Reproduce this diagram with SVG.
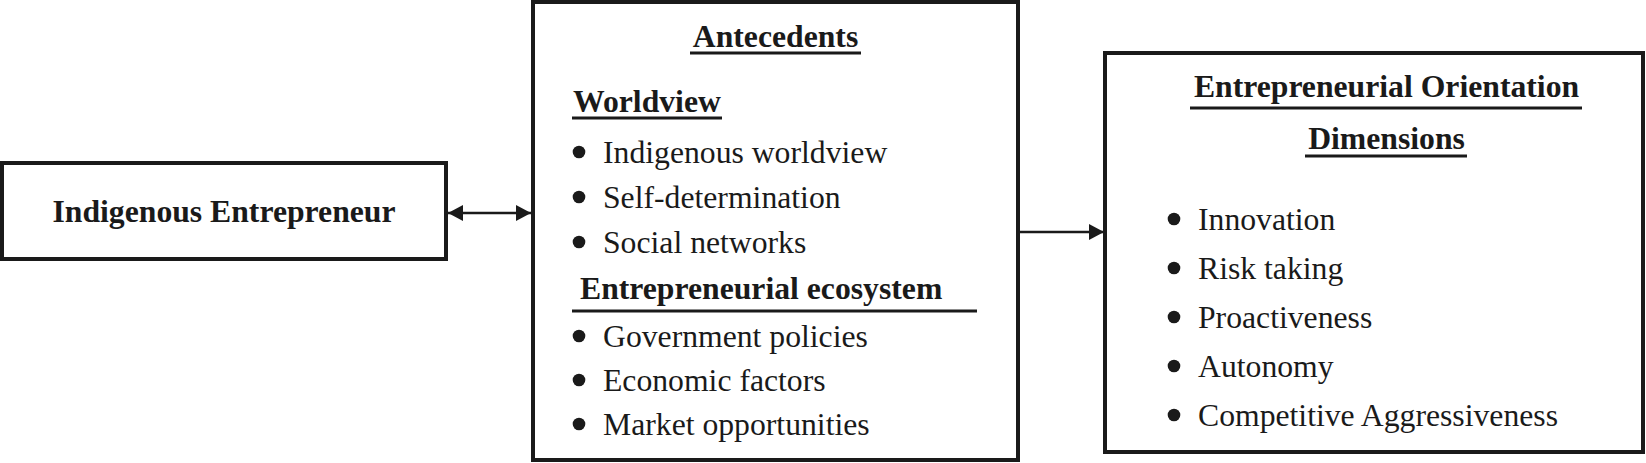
<svg xmlns="http://www.w3.org/2000/svg" width="1646" height="463" viewBox="0 0 1646 463">
  <style>
    .box { fill: #ffffff; stroke: #1a1a1a; stroke-width: 4; }
    .t { font-family: "Liberation Serif", "Times New Roman", serif; font-size: 31.7px; fill: #1a1a1a; }
    .b { font-weight: bold; }
    .ul { stroke: #1a1a1a; stroke-width: 3; }
    .dot { fill: #1a1a1a; }
    .conn { stroke: #1a1a1a; stroke-width: 2.5; fill: none; }
  </style>
  <defs>
    <marker id="ah" markerUnits="userSpaceOnUse" markerWidth="16" markerHeight="18" refX="15" refY="8" orient="auto-start-reverse">
      <path d="M0,0 L15,8 L0,16 Z" fill="#1a1a1a"/>
    </marker>
  </defs>
  <rect width="1646" height="463" fill="#ffffff"/>

  <g id="connectors">
    <line class="conn" x1="448" y1="213" x2="531" y2="213" marker-start="url(#ah)" marker-end="url(#ah)"/>
    <line class="conn" x1="1020" y1="232" x2="1104" y2="232" marker-end="url(#ah)"/>
  </g>

  <g id="indigenous-entrepreneur">
    <rect class="box" x="2" y="163" width="444" height="96"/>
    <text class="t b" x="224" y="222" text-anchor="middle">Indigenous Entrepreneur</text>
  </g>

  <g id="antecedents">
    <rect class="box" x="533" y="2" width="485" height="458"/>
    <text class="t b" x="775.5" y="47" text-anchor="middle">Antecedents</text>
    <line class="ul" x1="690" y1="53" x2="861" y2="53"/>
    <text class="t b" x="573" y="112">Worldview</text>
    <line class="ul" x1="572" y1="118" x2="722" y2="118"/>
    <circle class="dot" cx="579" cy="152" r="6.3"/>
    <text class="t" x="603" y="163">Indigenous worldview</text>
    <circle class="dot" cx="579" cy="197" r="6.3"/>
    <text class="t" x="603" y="208">Self-determination</text>
    <circle class="dot" cx="579" cy="242" r="6.3"/>
    <text class="t" x="603" y="253">Social networks</text>
    <text class="t b" x="580" y="299">Entrepreneurial ecosystem</text>
    <line class="ul" x1="572" y1="311" x2="977" y2="311"/>
    <circle class="dot" cx="579" cy="336" r="6.3"/>
    <text class="t" x="603" y="347">Government policies</text>
    <circle class="dot" cx="579" cy="380" r="6.3"/>
    <text class="t" x="603" y="391">Economic factors</text>
    <circle class="dot" cx="579" cy="424" r="6.3"/>
    <text class="t" x="603" y="435">Market opportunities</text>
  </g>

  <g id="eo-dimensions">
    <rect class="box" x="1105" y="53" width="538" height="399"/>
    <text class="t b" x="1386.5" y="97" text-anchor="middle">Entrepreneurial Orientation</text>
    <line class="ul" x1="1190" y1="108" x2="1582" y2="108"/>
    <text class="t b" x="1386.5" y="149" text-anchor="middle">Dimensions</text>
    <line class="ul" x1="1305" y1="156" x2="1467" y2="156"/>
    <circle class="dot" cx="1174" cy="219" r="6.3"/>
    <text class="t" x="1198" y="230">Innovation</text>
    <circle class="dot" cx="1174" cy="268" r="6.3"/>
    <text class="t" x="1198" y="279">Risk taking</text>
    <circle class="dot" cx="1174" cy="317" r="6.3"/>
    <text class="t" x="1198" y="328">Proactiveness</text>
    <circle class="dot" cx="1174" cy="366" r="6.3"/>
    <text class="t" x="1198" y="377">Autonomy</text>
    <circle class="dot" cx="1174" cy="415" r="6.3"/>
    <text class="t" x="1198" y="426">Competitive Aggressiveness</text>
  </g>
</svg>
